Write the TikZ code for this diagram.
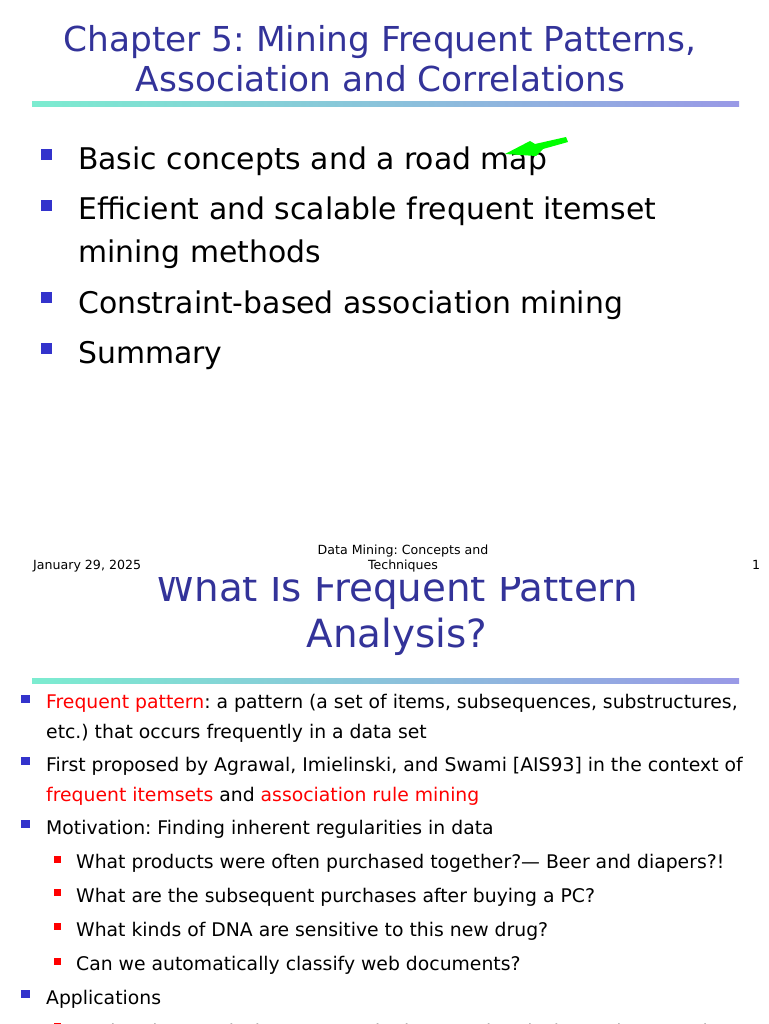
\documentclass[tikz,border=0pt]{standalone}
\usepackage{xcolor}
\usepackage{fontspec}
\setmainfont{DejaVu Sans}
\usetikzlibrary{positioning, calc}
\definecolor{slideblue}{RGB}{51,51,153}
\definecolor{bulletblue}{RGB}{51,51,204}
\definecolor{barleft}{RGB}{124,236,208}
\definecolor{barright}{RGB}{153,153,230}
\newcommand{\fsize}[1]{\fontsize{#1}{#1}\selectfont\frenchspacing}
\tikzset{
	titletext/.style={anchor=base, inner sep=0pt, text=slideblue, font=\fsize{34.35}},
	bigtext/.style={anchor=base west, inner sep=0pt, font=\fsize{29.85}},
	smalltext/.style={anchor=base west, inner sep=0pt, font=\fsize{18.8}},
	foottext/.style={anchor=base, inner sep=0pt, font=\fsize{12.6}},
	rulebar/.style={left color=barleft, right color=barright, draw=none},
	bulletmark/.style={fill=bulletblue, draw=none},
	subbullet/.style={fill=red, draw=none},
}
\begin{document}
\begin{tikzpicture}[x=1pt, y=-1pt]
	\useasboundingbox (0,0) rectangle (768,1024);
	\clip (0,0) rectangle (768,1024);
	
	% first slide
	\node [titletext] (chaptitle) at (380,52) {Chapter 5: Mining Frequent Patterns,};
	\node [titletext] (chaptitleb) at (380.5,92) {Association and Correlations};
	\shade [rulebar] (32,102) rectangle (739,107);
	
	\foreach \yb in {149,200,292,343}
		\fill [bulletmark] (41,\yb) rectangle ++(11,11);
	\node [bigtext] (basic) at (78,170) {Basic concepts and a road map};
	\node [bigtext] (efficient) at (78,219) {Efficient and scalable frequent itemset};
	\node [bigtext] (efficientb) at (78,262) {mining methods};
	\node [bigtext] (constraint) at (78,313) {Constraint-based association mining};
	\node [bigtext] (summary) at (78,363) {Summary};
	
	\fill [green] (505,154) -- (530,141) -- (535,144) -- (566,137) -- (568,142) -- (543,149) -- (536,156) -- cycle;
	
	% second slide
	\node [titletext, font=\fsize{38.8}] (whattitle) at (397,601) {What Is Frequent Pattern};
	\node [titletext, font=\fsize{38.8}] (whattitleb) at (397,647) {Analysis?};
	\shade [rulebar] (32,678) rectangle (739,683);
	
	% footer sits on top of the next title
	\fill [white] (0,540) rectangle (768,576.5);
	\node [foottext, anchor=base west] (datefoot) at (33,569) {January 29, 2025};
	\node [foottext] (bookfoot) at (403,554) {Data Mining: Concepts and};
	\node [foottext] (bookfootb) at (403,569) {Techniques};
	\node [foottext] (pagefoot) at (756,569) {1};
	
	\foreach \yb in {695,757,820,990}
		\fill [bulletmark] (21,\yb) rectangle ++(9,8);
	\foreach \yb in {856,889,923,958,1023.3}
		\fill [subbullet] (54,\yb) rectangle ++(7,7);
	
	\node [smalltext] (freq) at (46,708) {\textcolor{red}{Frequent pattern}: a pattern (a set of items, subsequences, substructures,};
	\node [smalltext] (freqb) at (46,738) {etc.) that occurs frequently in a data set};
	\node [smalltext] (first) at (46,771) {First proposed by Agrawal, Imielinski, and Swami [AIS93] in the context of};
	\node [smalltext] (firstb) at (46,801) {\textcolor{red}{frequent itemsets} and \textcolor{red}{association rule mining}};
	\node [smalltext] (motiv) at (46,834) {Motivation: Finding inherent regularities in data};
	\node [smalltext] (products) at (76,868) {What products were often purchased together?— Beer and diapers?!};
	\node [smalltext] (subseq) at (76,902) {What are the subsequent purchases after buying a PC?};
	\node [smalltext] (dna) at (76,936) {What kinds of DNA are sensitive to this new drug?};
	\node [smalltext] (classify) at (76,970.5) {Can we automatically classify web documents?};
	\node [smalltext] (apps) at (46,1004) {Applications};
	\node [smalltext] (basket) at (76,1038) {Basket data analysis, cross-marketing, catalog design, sale campaign};
\end{tikzpicture}
\end{document}
